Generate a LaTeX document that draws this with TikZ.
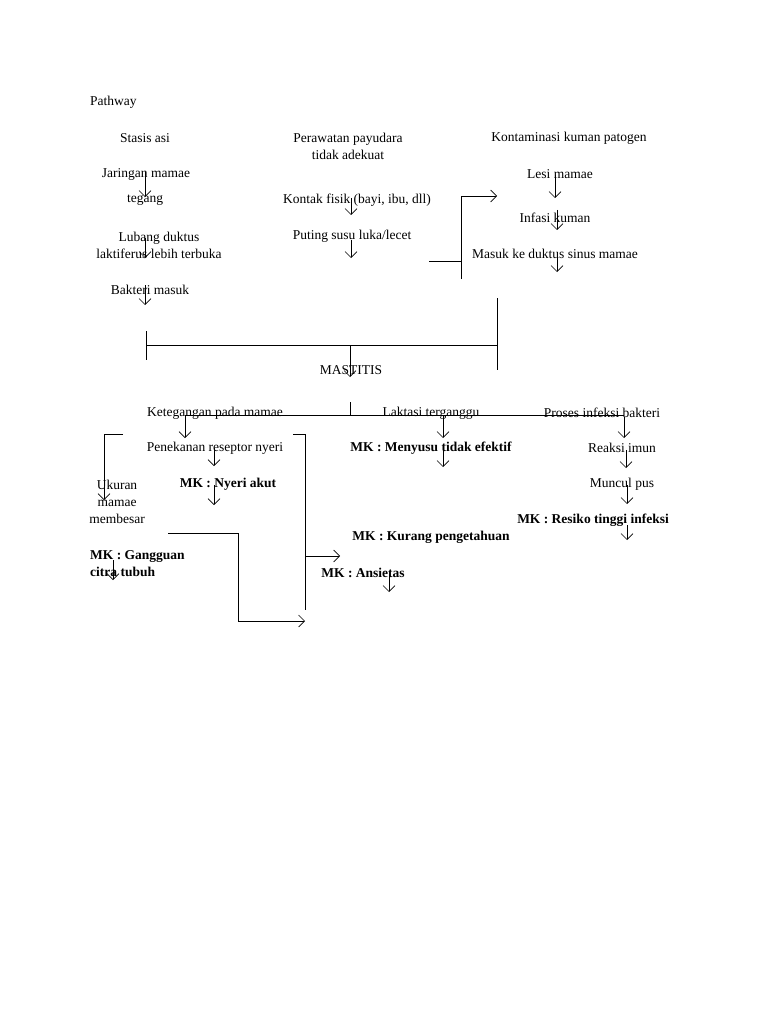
\documentclass[tikz,border=0pt]{standalone}
\usepackage{fontspec}
\setmainfont{Liberation Serif}
\usetikzlibrary{arrows.meta}

\begin{document}
\begin{tikzpicture}[x=1pt,y=-1pt,>={Straight Barb[length=6pt,width=12pt]},
    every node/.style={font=\fontsize{13.5}{17}\selectfont,inner sep=1pt,align=center},
    mk/.style={font=\fontsize{13.5}{17}\selectfont\bfseries},
    arr/.style={->,semithick},
    ln/.style={semithick}]
  \useasboundingbox (0,0) rectangle (768,1024);
  \node[anchor=west] (path) at (89,102) {Pathway};
  % causes
  \node (stasis) at (145,138) {Stasis asi};
  \node (rawat) at (348,146) {Perawatan payudara\\tidak adekuat};
  \node (konta) at (569,138) {Kontaminasi kuman patogen};
  \node (jar) at (146,174) {Jaringan mamae};
  \node (teg) at (145,200) {tegang};
  \node (kontak) at (357,200) {Kontak fisik (bayi, ibu, dll)};
  \node (lesi) at (560,174) {Lesi mamae};
  \node (infasi) at (555,218) {Infasi kuman};
  \node (lubang) at (159,245) {Lubang duktus\\laktiferus lebih terbuka};
  \node (puting) at (352,236) {Puting susu luka/lecet};
  \node (masuk) at (555,254) {Masuk ke duktus sinus mamae};
  \node (bakteri) at (150,290) {Bakteri masuk};
  \node (mast) at (351,370) {MASTITIS};
  % effects
  \node (keteg) at (215,413) {Ketegangan pada mamae};
  \node (laktasi) at (431,413) {Laktasi terganggu};
  \node (proses) at (602,413) {Proses infeksi bakteri};
  \node (penek) at (215,448) {Penekanan reseptor nyeri};
  \node[mk] (menyusu) at (431,448) {MK : Menyusu tidak efektif};
  \node (reaksi) at (622,448) {Reaksi imun};
  \node (ukuran) at (117,502) {Ukuran\\mamae\\membesar};
  \node[mk] (nyeri) at (228,484) {MK : Nyeri akut};
  \node (pus) at (622,484) {Muncul pus};
  \node[mk] (resiko) at (593,520) {MK : Resiko tinggi infeksi};
  \node[mk] (kurang) at (431,537) {MK : Kurang pengetahuan};
  \node[mk,anchor=west,align=left] (citra) at (89,564) {MK : Gangguan\\citra tubuh};
  \node[mk] (ansie) at (363,573) {MK : Ansietas};
  % short arrows
  \foreach \x/\ya/\yb in {145/172/197, 145/238/258, 145/285/305, 351/198/215,
      351/240/258, 555/175/198, 557/210/230, 557/258/272, 185/415/438,
      214/448/466, 214/485/505, 443/415/438, 443/450/467, 624/417/438,
      626/450/468, 627/485/504, 627/525/540, 389/575/592, 113/560/580}
    \draw[arr] (\x,\ya) -- (\x,\yb);
  % joins
  \draw[ln] (146,331) -- (146,360);
  \draw[ln] (497,298) -- (497,370);
  \draw[ln] (146,345) -- (497,345);
  \draw[arr] (350,345) -- (350,377);
  \draw[ln] (429,261) -- (461,261);
  \draw[ln] (461,279) -- (461,196);
  \draw[arr] (461,196) -- (497,196);
  \draw[ln] (350,402) -- (350,415);
  \draw[ln] (185,415) -- (624,415);
  \draw[ln] (123,434) -- (104,434);
  \draw[arr] (104,434) -- (104,500);
  \draw[ln] (293,434) -- (305,434) -- (305,610);
  \draw[arr] (305,556) -- (340,556);
  \draw[arr] (168,533) -- (238,533) -- (238,621) -- (305,621);
\end{tikzpicture}
\end{document}
